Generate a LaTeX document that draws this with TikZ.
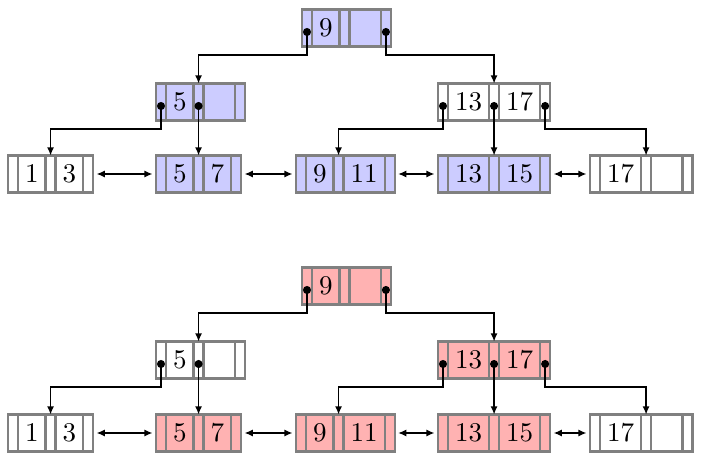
\documentclass[tikz,border=0pt]{standalone}
\usepackage{tikz}
\usetikzlibrary{positioning,arrows.meta}

\tikzset{
  cell/.style={draw=gray, thick, minimum height=13.7pt, inner ysep=0pt, outer sep=0pt},
  ptr/.style={cell, minimum width=3.7pt, inner xsep=0pt},
  key/.style={cell, inner xsep=2.6pt},
  link/.style={-{Latex[length=3pt,width=2.6pt]}, line width=0.5pt},
  sib/.style={{Latex[length=3pt,width=2.6pt]}-{Latex[length=3pt,width=2.6pt]}, line width=0.5pt,
              shorten <=1.3pt, shorten >=1.3pt}
}

% empty key cell
\newcommand{\nokey}{\rule{6.4pt}{0pt}}

% one tree node: name, left point, fill, first key, second key
\newcommand{\bpnode}[5]{%
  \node[ptr, fill=#3, anchor=west] (#1-p1) at #2 {};
  \node[key, fill=#3, right=0pt of #1-p1] (#1-k1) {#4};
  \node[ptr, fill=#3, right=0pt of #1-k1] (#1-p2) {};
  \node[key, fill=#3, right=0pt of #1-p2] (#1-k2) {#5};
  \node[ptr, fill=#3, right=0pt of #1-k2] (#1-p3) {};
  \path (#1-p1.center) ++(0,4) coordinate (#1-d1);
  \path (#1-p2.center) ++(0,4) coordinate (#1-d2);
  \path (#1-p3.center) ++(0,4) coordinate (#1-d3);
}

\begin{document}
\begin{tikzpicture}[x=0.37pt, y=-0.37pt]
  \useasboundingbox (0,0) rectangle (701,461);

  % upper tree
  \bpnode{r1}{(302,28)}{blue!20}{9}{\nokey}
  \bpnode{a1}{(156,102)}{blue!20}{5}{\nokey}
  \bpnode{b1}{(438,102)}{white}{13}{17}
  \bpnode{l11}{(8,174)}{white}{1}{3}
  \bpnode{l12}{(156,174)}{blue!20}{5}{7}
  \bpnode{l13}{(296,174)}{blue!20}{9}{11}
  \bpnode{l14}{(438,174)}{blue!20}{13}{15}
  \bpnode{l15}{(590,174)}{white}{17}{\nokey}

  % lower tree
  \bpnode{r2}{(302,286)}{red!30}{9}{\nokey}
  \bpnode{a2}{(156,360)}{white}{5}{\nokey}
  \bpnode{b2}{(438,360)}{red!30}{13}{17}
  \bpnode{l21}{(8,433)}{white}{1}{3}
  \bpnode{l22}{(156,433)}{red!30}{5}{7}
  \bpnode{l23}{(296,433)}{red!30}{9}{11}
  \bpnode{l24}{(438,433)}{red!30}{13}{15}
  \bpnode{l25}{(590,433)}{white}{17}{\nokey}

  \draw[link] (r1-d1) -- ++(0,23) -| (a1-p2.north);
  \draw[link] (r1-d3) -- ++(0,23) -| (b1-p2.north);
  \draw[link] (a1-d1) -- ++(0,23) -| (l11-p2.north);
  \draw[link] (a1-d2) -- (l12-p2.north);
  \draw[link] (b1-d1) -- ++(0,23) -| (l13-p2.north);
  \draw[link] (b1-d2) -- (l14-p2.north);
  \draw[link] (b1-d3) -- ++(0,23) -| (l15-p2.north);

  \draw[link] (r2-d1) -- ++(0,23) -| (a2-p2.north);
  \draw[link] (r2-d3) -- ++(0,23) -| (b2-p2.north);
  \draw[link] (a2-d1) -- ++(0,23) -| (l21-p2.north);
  \draw[link] (a2-d2) -- (l22-p2.north);
  \draw[link] (b2-d1) -- ++(0,23) -| (l23-p2.north);
  \draw[link] (b2-d2) -- (l24-p2.north);
  \draw[link] (b2-d3) -- ++(0,23) -| (l25-p2.north);

  \draw[sib] (l11-p3) -- (l12-p1);
  \draw[sib] (l12-p3) -- (l13-p1);
  \draw[sib] (l13-p3) -- (l14-p1);
  \draw[sib] (l14-p3) -- (l15-p1);
  \draw[sib] (l21-p3) -- (l22-p1);
  \draw[sib] (l22-p3) -- (l23-p1);
  \draw[sib] (l23-p3) -- (l24-p1);
  \draw[sib] (l24-p3) -- (l25-p1);

  % pointer dots
  \foreach \d in {r1-d1,r1-d3,a1-d1,a1-d2,b1-d1,b1-d2,b1-d3,
                  r2-d1,r2-d3,a2-d1,a2-d2,b2-d1,b2-d2,b2-d3}
    \fill (\d) circle[radius=1.5pt];
\end{tikzpicture}
\end{document}
